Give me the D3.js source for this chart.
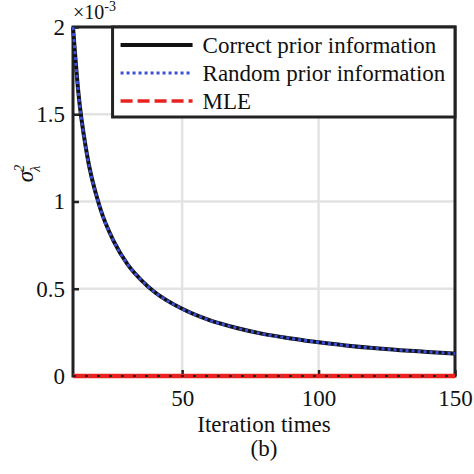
<!DOCTYPE html>
<html><head><meta charset="utf-8">
<script src="https://cdn.jsdelivr.net/npm/d3@7"></script>
<style>body{margin:0;background:#fff}text{font-family:"Liberation Serif","Times New Roman",serif}</style>
</head><body><div id="chart"></div>
<script>
// data (y in units of 1e-3)
const iters = [10, 12, 15, 20, 25, 30, 35, 40, 50, 60, 70, 80, 90, 100, 110, 120, 130, 140, 150];
const correctPrior = [2.0, 1.62, 1.28, 0.96, 0.77, 0.64, 0.55, 0.48, 0.385, 0.32, 0.275, 0.24, 0.215, 0.193, 0.175, 0.16, 0.148, 0.138, 0.128];
const randomPrior = [2.0, 1.62, 1.28, 0.96, 0.77, 0.64, 0.55, 0.48, 0.385, 0.32, 0.275, 0.24, 0.215, 0.193, 0.175, 0.16, 0.148, 0.138, 0.128];
const mle = [0, 0, 0, 0, 0, 0, 0, 0, 0, 0, 0, 0, 0, 0, 0, 0, 0, 0, 0];
const xTicks = [50, 100, 150];
const yTicks = [0, 0.5, 1, 1.5, 2];

const margin = {top: 27, right: 19, bottom: 98, left: 73};
const width = 474 - margin.left - margin.right;
const height = 474 - margin.top - margin.bottom;
const fs = 23;

const svg = d3.select("#chart").append("svg")
    .attr("width", 474).attr("height", 474)
  .append("g")
    .attr("transform", `translate(${margin.left}, ${margin.top})`);

const x = d3.scaleLinear().domain([10, 150]).range([0, width]);
const y = d3.scaleLinear().domain([0, 2]).range([height, 0]);

// grid
svg.selectAll(".gx").data(xTicks).join("line")
  .attr("x1", d => x(d)).attr("x2", d => x(d)).attr("y1", 0).attr("y2", height)
  .attr("stroke", "#e3e3e3").attr("stroke-width", 2.5);
svg.selectAll(".gy").data(yTicks).join("line")
  .attr("y1", d => y(d)).attr("y2", d => y(d)).attr("x1", 0).attr("x2", width)
  .attr("stroke", "#e3e3e3").attr("stroke-width", 2.5);

// frame
svg.append("rect").attr("width", width).attr("height", height)
  .attr("fill", "none").attr("stroke", "#222").attr("stroke-width", 3);

// axes
const xAxis = svg.append("g").attr("transform", `translate(0,${height})`)
  .call(d3.axisBottom(x).tickValues(xTicks).tickSize(-6).tickPadding(14));
const yAxis = svg.append("g")
  .call(d3.axisLeft(y).tickValues(yTicks).tickSize(-6).tickPadding(8).tickFormat(d3.format("")));
[xAxis, yAxis].forEach(a => {
  a.select(".domain").remove();
  a.selectAll("line").attr("stroke", "#222").attr("stroke-width", 2.5);
  a.selectAll("text").attr("font-size", fs).attr("fill", "#111")
    .style("font-family", "Liberation Serif");
});

const line = d3.line().x((d, i) => x(iters[i])).y(d => y(d)).curve(d3.curveMonotoneX);

const plot = svg.append("g");
plot.append("path").datum(mle).attr("d", line).attr("fill", "none")
  .attr("stroke", "#e8231f").attr("stroke-width", 4.5);
plot.append("path").datum(mle).attr("d", line).attr("fill", "none")
  .attr("stroke", "#222").attr("stroke-width", 2).attr("stroke-dasharray", "3,9");
plot.append("path").datum(correctPrior).attr("d", line).attr("fill", "none")
  .attr("stroke", "#111").attr("stroke-width", 4);
plot.append("path").datum(randomPrior).attr("d", line).attr("fill", "none")
  .attr("stroke", "#3b4fd8").attr("stroke-width", 3).attr("stroke-dasharray", "3,3");

// legend
const lg = svg.append("g").attr("transform", `translate(${x(24.5)},0)`);
lg.append("rect").attr("width", width - x(24.5)).attr("height", 90)
  .attr("fill", "#fff").attr("stroke", "#222").attr("stroke-width", 3);
const legendItems = [
  {label: "Correct prior information", color: "#111", dash: null, w: 4},
  {label: "Random prior information", color: "#3b4fd8", dash: "3,3", w: 3},
  {label: "MLE", color: "#e8231f", dash: "12,5", w: 3.5}
];
legendItems.forEach((d, i) => {
  const yy = 18 + i * 28;
  lg.append("line").attr("x1", 8).attr("x2", 80).attr("y1", yy).attr("y2", yy)
    .attr("stroke", d.color).attr("stroke-width", d.w).attr("stroke-dasharray", d.dash);
  lg.append("text").attr("x", 90).attr("y", yy + 8).attr("font-size", fs).attr("fill", "#111").text(d.label);
});

// exponent
const ex = svg.append("text").attr("x", 0).attr("y", -8).attr("font-size", 20).attr("fill", "#111");
ex.append("tspan").text("×10");
ex.append("tspan").attr("dy", -8).attr("font-size", 14).text("-3");

// labels
svg.append("text").attr("x", width / 2).attr("y", height + 56).attr("text-anchor", "middle")
  .attr("font-size", fs).attr("fill", "#111").text("Iteration times");
svg.append("text").attr("x", width / 2).attr("y", height + 80).attr("text-anchor", "middle")
  .attr("font-size", fs).attr("fill", "#111").text("(b)");
const yl = svg.append("text").attr("transform", `translate(-40,${height / 2 - 28}) rotate(-90)`)
  .attr("text-anchor", "middle").attr("font-size", fs).attr("fill", "#111").style("font-style", "italic");
yl.append("tspan").text("σ");
yl.append("tspan").attr("font-size", 14).attr("dy", -9).attr("dx", -1).text("2");
yl.append("tspan").attr("font-size", 14).attr("dy", 16).attr("dx", -7).text("λ");
</script></body></html>
